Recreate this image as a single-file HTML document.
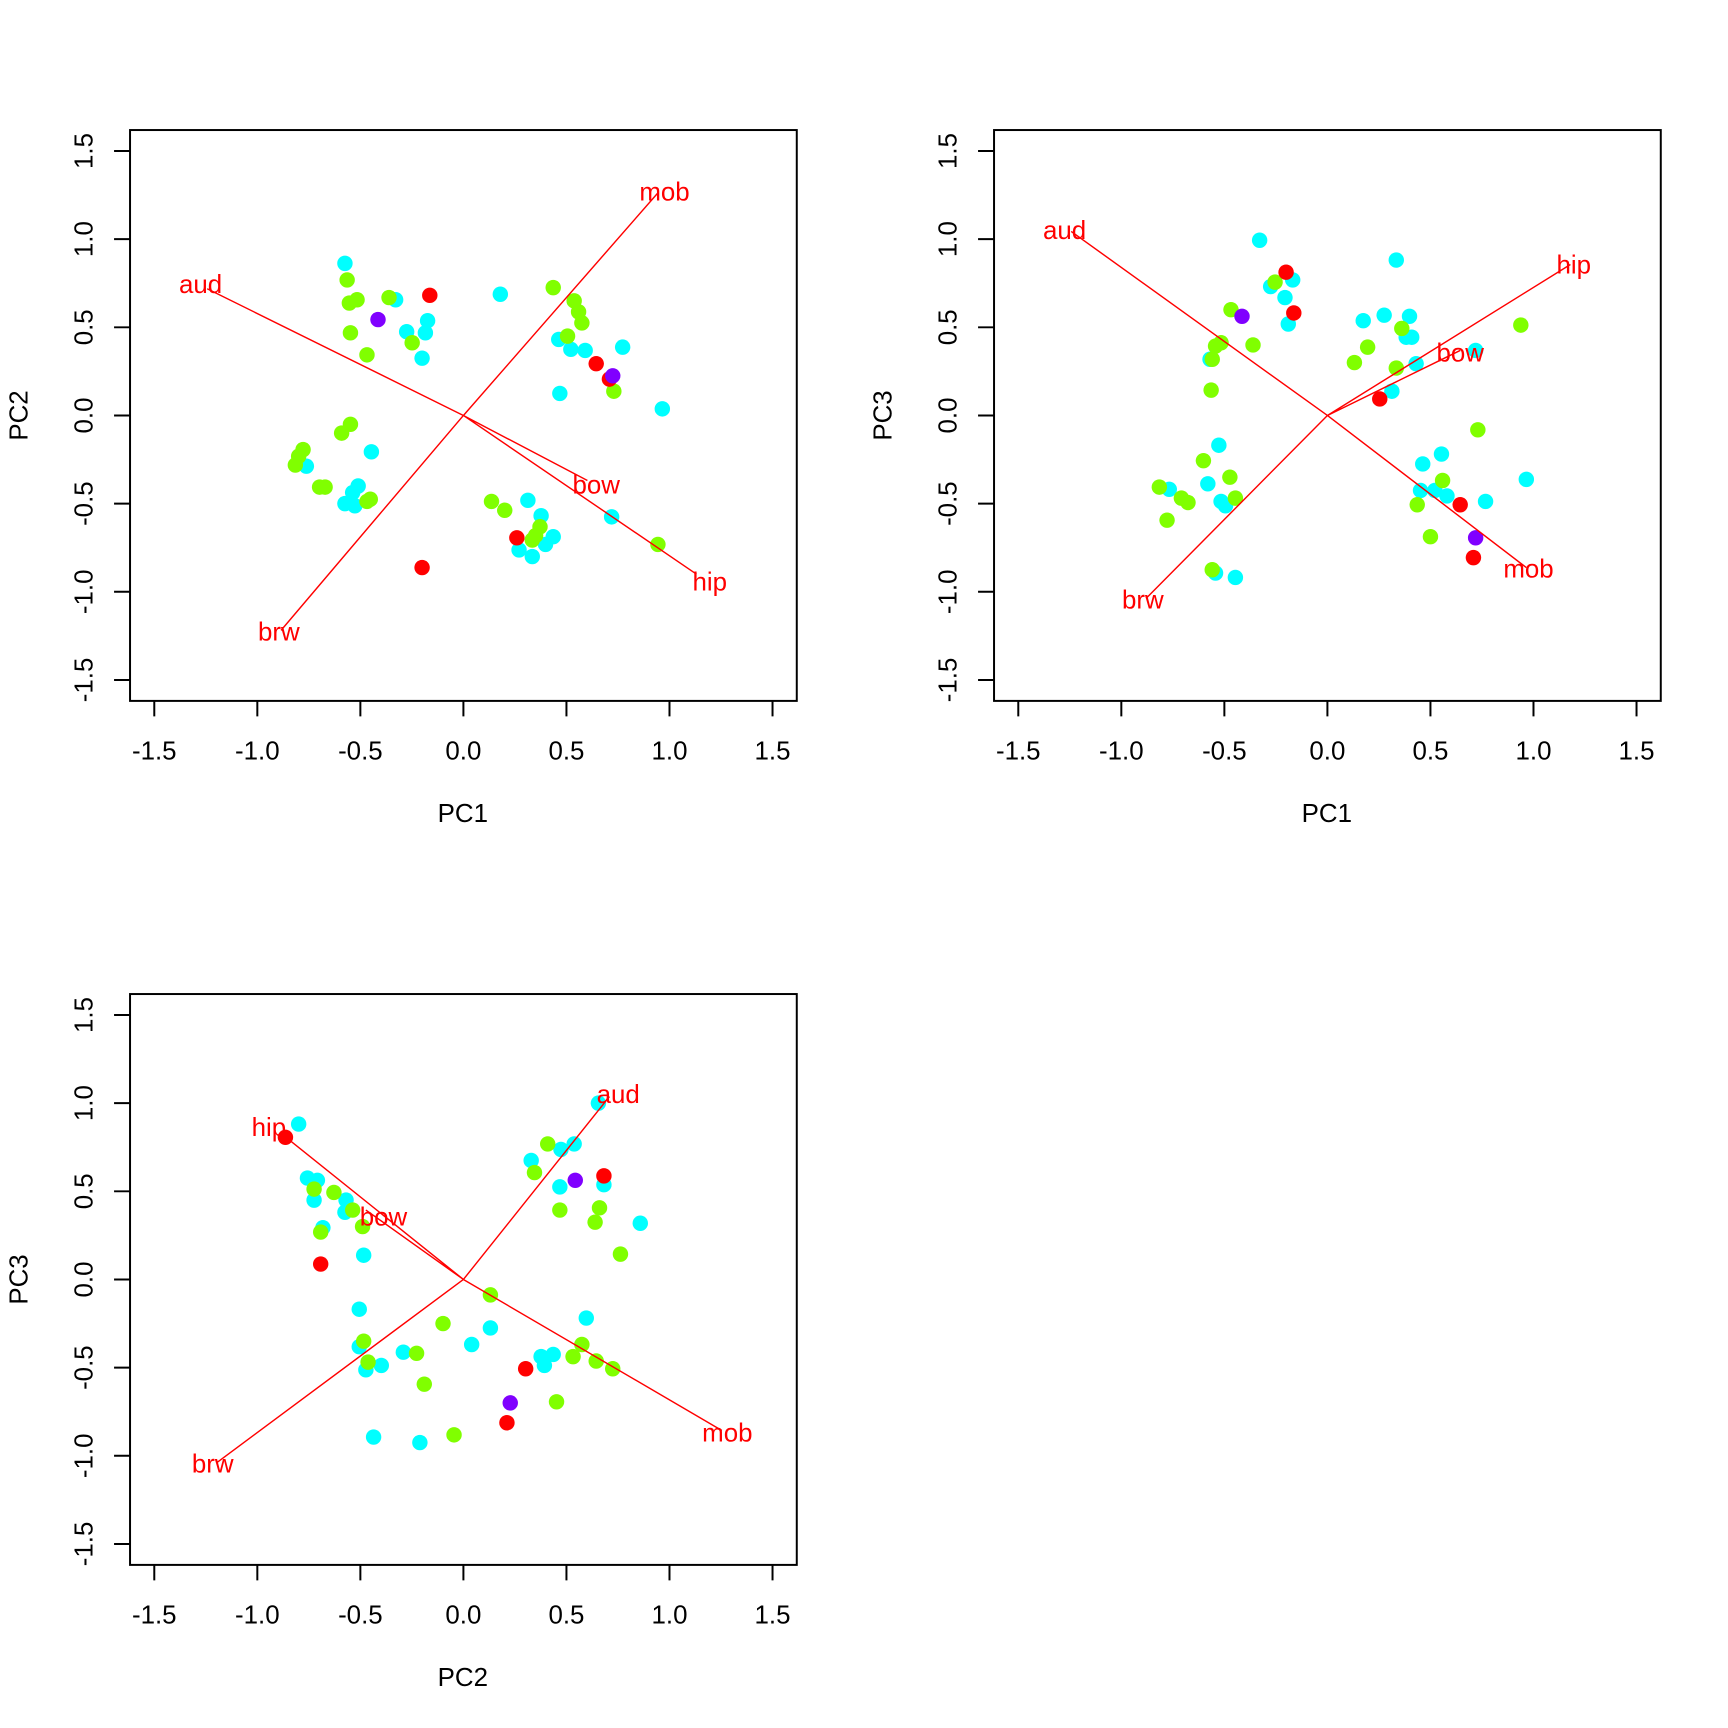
<!DOCTYPE html>
<html><head><meta charset="utf-8"><style>
html,body{margin:0;padding:0;background:#fff;}
svg{display:block;}
text{font-family:"Liberation Sans",Arial,sans-serif;}
.t{font-size:23.5px;fill:#000;}
.l{font-size:23.5px;fill:#f00;}
.g{fill:#80ff00}.c{fill:#00ffff}.r{fill:#ff0000}.p{fill:#8000ff}
.a{stroke:#f00;stroke-width:1.3;fill:none}
.ax{stroke:#000;stroke-width:1.8;fill:none}
</style></head><body>
<svg width="1728" height="1728" viewBox="0 0 1568 1568" xmlns="http://www.w3.org/2000/svg">
<rect width="1568" height="1568" fill="#fff"/>

<!-- Panel 1 -->
<g>
<rect class="ax" x="118" y="118" width="605" height="518"/>
<path class="ax" d="M140 636V650M233.5 636V650M327 636V650M420.5 636V650M514 636V650M607.5 636V650M701 636V650M118 137H103.5M118 217H103.5M118 297H103.5M118 377H103.5M118 457H103.5M118 537H103.5M118 617H103.5"/>
<g class="t" text-anchor="middle">
<text x="140" y="689">-1.5</text><text x="233.5" y="689">-1.0</text><text x="327" y="689">-0.5</text><text x="420.5" y="689">0.0</text><text x="514" y="689">0.5</text><text x="607.5" y="689">1.0</text><text x="701" y="689">1.5</text>
<text transform="translate(84,617) rotate(-90)">-1.5</text><text transform="translate(84,537) rotate(-90)">-1.0</text><text transform="translate(84,457) rotate(-90)">-0.5</text><text transform="translate(84,377) rotate(-90)">0.0</text><text transform="translate(84,297) rotate(-90)">0.5</text><text transform="translate(84,217) rotate(-90)">1.0</text><text transform="translate(84,137) rotate(-90)">1.5</text>
<text x="420" y="746">PC1</text>
<text transform="translate(25,377) rotate(-90)">PC2</text>
</g>
<g>
<circle class="c" cx="313" cy="239" r="7"/><circle class="c" cx="359" cy="272" r="7"/><circle class="c" cx="369" cy="301" r="7"/><circle class="c" cx="386" cy="302" r="7"/><circle class="c" cx="388" cy="291" r="7"/><circle class="c" cx="383" cy="325" r="7"/><circle class="c" cx="454" cy="267" r="7"/><circle class="c" cx="507" cy="308" r="7"/><circle class="c" cx="518" cy="317" r="7"/><circle class="c" cx="531" cy="318" r="7"/><circle class="c" cx="565" cy="315" r="7"/><circle class="c" cx="508" cy="357" r="7"/><circle class="c" cx="601" cy="371" r="7"/><circle class="c" cx="337" cy="410" r="7"/><circle class="c" cx="278" cy="423" r="7"/><circle class="c" cx="325" cy="441" r="7"/><circle class="c" cx="320" cy="447" r="7"/><circle class="c" cx="313" cy="457" r="7"/><circle class="c" cx="322" cy="459" r="7"/><circle class="c" cx="479" cy="454" r="7"/><circle class="c" cx="491" cy="468" r="7"/><circle class="c" cx="502" cy="487" r="7"/><circle class="c" cx="495" cy="494" r="7"/><circle class="c" cx="471" cy="499" r="7"/><circle class="c" cx="483" cy="505" r="7"/><circle class="c" cx="555" cy="469" r="7"/>
<circle class="g" cx="315" cy="254" r="7"/><circle class="g" cx="317" cy="275" r="7"/><circle class="g" cx="324" cy="272" r="7"/><circle class="g" cx="353" cy="270" r="7"/><circle class="g" cx="318" cy="302" r="7"/><circle class="g" cx="374" cy="311" r="7"/><circle class="g" cx="333" cy="322" r="7"/><circle class="g" cx="502" cy="261" r="7"/><circle class="g" cx="521" cy="273" r="7"/><circle class="g" cx="525" cy="283" r="7"/><circle class="g" cx="528" cy="293" r="7"/><circle class="g" cx="515" cy="305" r="7"/><circle class="g" cx="557" cy="355" r="7"/><circle class="g" cx="318" cy="385" r="7"/><circle class="g" cx="310" cy="393" r="7"/><circle class="g" cx="275" cy="408" r="7"/><circle class="g" cx="271" cy="414" r="7"/><circle class="g" cx="268" cy="422" r="7"/><circle class="g" cx="290" cy="442" r="7"/><circle class="g" cx="295" cy="442" r="7"/><circle class="g" cx="336" cy="453" r="7"/><circle class="g" cx="333" cy="455" r="7"/><circle class="g" cx="446" cy="455" r="7"/><circle class="g" cx="458" cy="463" r="7"/><circle class="g" cx="490" cy="478" r="7"/><circle class="g" cx="486" cy="486" r="7"/><circle class="g" cx="483" cy="490" r="7"/><circle class="g" cx="597" cy="494" r="7"/>
<circle class="r" cx="390" cy="268" r="7"/><circle class="r" cx="541" cy="330" r="7"/><circle class="r" cx="553" cy="344" r="7"/><circle class="r" cx="469" cy="488" r="7"/><circle class="r" cx="383" cy="515" r="7"/>
<circle class="p" cx="343" cy="290" r="7"/><circle class="p" cx="556" cy="341" r="7"/>
</g>
<path class="a" d="M420.5 377L597 175M420.5 377L188 262M420.5 377L632 521M420.5 377L533 436M420.5 377L255 572"/>
<g class="l" text-anchor="middle">
<text x="603" y="182">mob</text><text x="182" y="266">aud</text><text x="644" y="536">hip</text><text x="541" y="448">bow</text><text x="253" y="581">brw</text>
</g>
</g>

<!-- Panel 2 -->
<g>
<rect class="ax" x="902" y="118" width="605" height="518"/>
<path class="ax" d="M924 636V650M1017.5 636V650M1111 636V650M1204.5 636V650M1298 636V650M1391.5 636V650M1485 636V650M902 137H887.5M902 217H887.5M902 297H887.5M902 377H887.5M902 457H887.5M902 537H887.5M902 617H887.5"/>
<g class="t" text-anchor="middle">
<text x="924" y="689">-1.5</text><text x="1017.5" y="689">-1.0</text><text x="1111" y="689">-0.5</text><text x="1204.5" y="689">0.0</text><text x="1298" y="689">0.5</text><text x="1391.5" y="689">1.0</text><text x="1485" y="689">1.5</text>
<text transform="translate(868,617) rotate(-90)">-1.5</text><text transform="translate(868,537) rotate(-90)">-1.0</text><text transform="translate(868,457) rotate(-90)">-0.5</text><text transform="translate(868,377) rotate(-90)">0.0</text><text transform="translate(868,297) rotate(-90)">0.5</text><text transform="translate(868,217) rotate(-90)">1.0</text><text transform="translate(868,137) rotate(-90)">1.5</text>
<text x="1204" y="746">PC1</text>
<text transform="translate(809,377) rotate(-90)">PC3</text>
</g>
<g>
<circle class="c" cx="1143" cy="218" r="7"/><circle class="c" cx="1267" cy="236" r="7"/><circle class="c" cx="1153" cy="260" r="7"/><circle class="c" cx="1173" cy="254" r="7"/><circle class="c" cx="1166" cy="270" r="7"/><circle class="c" cx="1169" cy="294" r="7"/><circle class="c" cx="1237" cy="291" r="7"/><circle class="c" cx="1256" cy="286" r="7"/><circle class="c" cx="1279" cy="287" r="7"/><circle class="c" cx="1276" cy="306" r="7"/><circle class="c" cx="1281" cy="306" r="7"/><circle class="c" cx="1285" cy="330" r="7"/><circle class="c" cx="1339" cy="318" r="7"/><circle class="c" cx="1263" cy="355" r="7"/><circle class="c" cx="1098" cy="326" r="7"/><circle class="c" cx="1106" cy="404" r="7"/><circle class="c" cx="1096" cy="439" r="7"/><circle class="c" cx="1108" cy="455" r="7"/><circle class="c" cx="1112" cy="459" r="7"/><circle class="c" cx="1061" cy="444" r="7"/><circle class="c" cx="1291" cy="421" r="7"/><circle class="c" cx="1308" cy="412" r="7"/><circle class="c" cx="1289" cy="445" r="7"/><circle class="c" cx="1302" cy="445" r="7"/><circle class="c" cx="1313" cy="450" r="7"/><circle class="c" cx="1348" cy="455" r="7"/><circle class="c" cx="1385" cy="435" r="7"/><circle class="c" cx="1103" cy="520" r="7"/><circle class="c" cx="1121" cy="524" r="7"/>
<circle class="g" cx="1157" cy="256" r="7"/><circle class="g" cx="1117" cy="281" r="7"/><circle class="g" cx="1108" cy="311" r="7"/><circle class="g" cx="1103" cy="314" r="7"/><circle class="g" cx="1100" cy="326" r="7"/><circle class="g" cx="1137" cy="313" r="7"/><circle class="g" cx="1272" cy="298" r="7"/><circle class="g" cx="1241" cy="315" r="7"/><circle class="g" cx="1229" cy="329" r="7"/><circle class="g" cx="1267" cy="334" r="7"/><circle class="g" cx="1380" cy="295" r="7"/><circle class="g" cx="1099" cy="354" r="7"/><circle class="g" cx="1341" cy="390" r="7"/><circle class="g" cx="1092" cy="418" r="7"/><circle class="g" cx="1116" cy="433" r="7"/><circle class="g" cx="1121" cy="452" r="7"/><circle class="g" cx="1052" cy="442" r="7"/><circle class="g" cx="1072" cy="452" r="7"/><circle class="g" cx="1078" cy="456" r="7"/><circle class="g" cx="1059" cy="472" r="7"/><circle class="g" cx="1309" cy="436" r="7"/><circle class="g" cx="1286" cy="458" r="7"/><circle class="g" cx="1298" cy="487" r="7"/><circle class="g" cx="1100" cy="517" r="7"/>
<circle class="r" cx="1167" cy="247" r="7"/><circle class="r" cx="1174" cy="284" r="7"/><circle class="r" cx="1252" cy="362" r="7"/><circle class="r" cx="1325" cy="458" r="7"/><circle class="r" cx="1337" cy="506" r="7"/>
<circle class="p" cx="1127" cy="287" r="7"/><circle class="p" cx="1339" cy="488" r="7"/>
</g>
<path class="a" d="M1204.5 377L972 210M1204.5 377L1425 240M1204.5 377L1325 318M1204.5 377L1385 515M1204.5 377L1040 543"/>
<g class="l" text-anchor="middle">
<text x="966" y="217">aud</text><text x="1428" y="248">hip</text><text x="1325" y="328">bow</text><text x="1387" y="524">mob</text><text x="1037" y="552">brw</text>
</g>
</g>

<!-- Panel 3 -->
<g>
<rect class="ax" x="118" y="902" width="605" height="518"/>
<path class="ax" d="M140 1420V1434M233.5 1420V1434M327 1420V1434M420.5 1420V1434M514 1420V1434M607.5 1420V1434M701 1420V1434M118 921H103.5M118 1001H103.5M118 1081H103.5M118 1161H103.5M118 1241H103.5M118 1321H103.5M118 1401H103.5"/>
<g class="t" text-anchor="middle">
<text x="140" y="1473">-1.5</text><text x="233.5" y="1473">-1.0</text><text x="327" y="1473">-0.5</text><text x="420.5" y="1473">0.0</text><text x="514" y="1473">0.5</text><text x="607.5" y="1473">1.0</text><text x="701" y="1473">1.5</text>
<text transform="translate(84,1401) rotate(-90)">-1.5</text><text transform="translate(84,1321) rotate(-90)">-1.0</text><text transform="translate(84,1241) rotate(-90)">-0.5</text><text transform="translate(84,1161) rotate(-90)">0.0</text><text transform="translate(84,1081) rotate(-90)">0.5</text><text transform="translate(84,1001) rotate(-90)">1.0</text><text transform="translate(84,921) rotate(-90)">1.5</text>
<text x="420" y="1530">PC2</text>
<text transform="translate(25,1161) rotate(-90)">PC3</text>
</g>
<g>
<circle class="c" cx="271" cy="1020" r="7"/><circle class="c" cx="543" cy="1001" r="7"/><circle class="c" cx="482" cy="1053" r="7"/><circle class="c" cx="509" cy="1043" r="7"/><circle class="c" cx="521" cy="1038" r="7"/><circle class="c" cx="279" cy="1069" r="7"/><circle class="c" cx="288" cy="1071" r="7"/><circle class="c" cx="285" cy="1089" r="7"/><circle class="c" cx="314" cy="1089" r="7"/><circle class="c" cx="313" cy="1100" r="7"/><circle class="c" cx="293" cy="1114" r="7"/><circle class="c" cx="508" cy="1077" r="7"/><circle class="c" cx="548" cy="1075" r="7"/><circle class="c" cx="581" cy="1110" r="7"/><circle class="c" cx="330" cy="1139" r="7"/><circle class="c" cx="326" cy="1188" r="7"/><circle class="c" cx="326" cy="1222" r="7"/><circle class="c" cx="532" cy="1196" r="7"/><circle class="c" cx="445" cy="1205" r="7"/><circle class="c" cx="428" cy="1220" r="7"/><circle class="c" cx="366" cy="1227" r="7"/><circle class="c" cx="332" cy="1243" r="7"/><circle class="c" cx="346" cy="1239" r="7"/><circle class="c" cx="491" cy="1231" r="7"/><circle class="c" cx="502" cy="1229" r="7"/><circle class="c" cx="494" cy="1239" r="7"/><circle class="c" cx="339" cy="1304" r="7"/><circle class="c" cx="381" cy="1309" r="7"/>
<circle class="g" cx="497" cy="1038" r="7"/><circle class="g" cx="485" cy="1064" r="7"/><circle class="g" cx="285" cy="1079" r="7"/><circle class="g" cx="303" cy="1082" r="7"/><circle class="g" cx="320" cy="1098" r="7"/><circle class="g" cx="329" cy="1113" r="7"/><circle class="g" cx="291" cy="1118" r="7"/><circle class="g" cx="508" cy="1098" r="7"/><circle class="g" cx="544" cy="1096" r="7"/><circle class="g" cx="540" cy="1109" r="7"/><circle class="g" cx="563" cy="1138" r="7"/><circle class="g" cx="445" cy="1175" r="7"/><circle class="g" cx="402" cy="1201" r="7"/><circle class="g" cx="330" cy="1217" r="7"/><circle class="g" cx="378" cy="1228" r="7"/><circle class="g" cx="334" cy="1236" r="7"/><circle class="g" cx="528" cy="1220" r="7"/><circle class="g" cx="520" cy="1231" r="7"/><circle class="g" cx="541" cy="1235" r="7"/><circle class="g" cx="556" cy="1242" r="7"/><circle class="g" cx="385" cy="1256" r="7"/><circle class="g" cx="505" cy="1272" r="7"/><circle class="g" cx="412" cy="1302" r="7"/>
<circle class="r" cx="259" cy="1032" r="7"/><circle class="r" cx="548" cy="1067" r="7"/><circle class="r" cx="291" cy="1147" r="7"/><circle class="r" cx="477" cy="1242" r="7"/><circle class="r" cx="460" cy="1291" r="7"/>
<circle class="p" cx="522" cy="1071" r="7"/><circle class="p" cx="463" cy="1273" r="7"/>
</g>
<path class="a" d="M420.5 1161L553 995M420.5 1161L257 1030M420.5 1161L332 1098M420.5 1161L655 1298M420.5 1161L197 1327"/>
<g class="l" text-anchor="middle">
<text x="561" y="1001">aud</text><text x="244" y="1031">hip</text><text x="348" y="1112">bow</text><text x="660" y="1308">mob</text><text x="193" y="1336">brw</text>
</g>
</g>
</svg>
</body></html>
